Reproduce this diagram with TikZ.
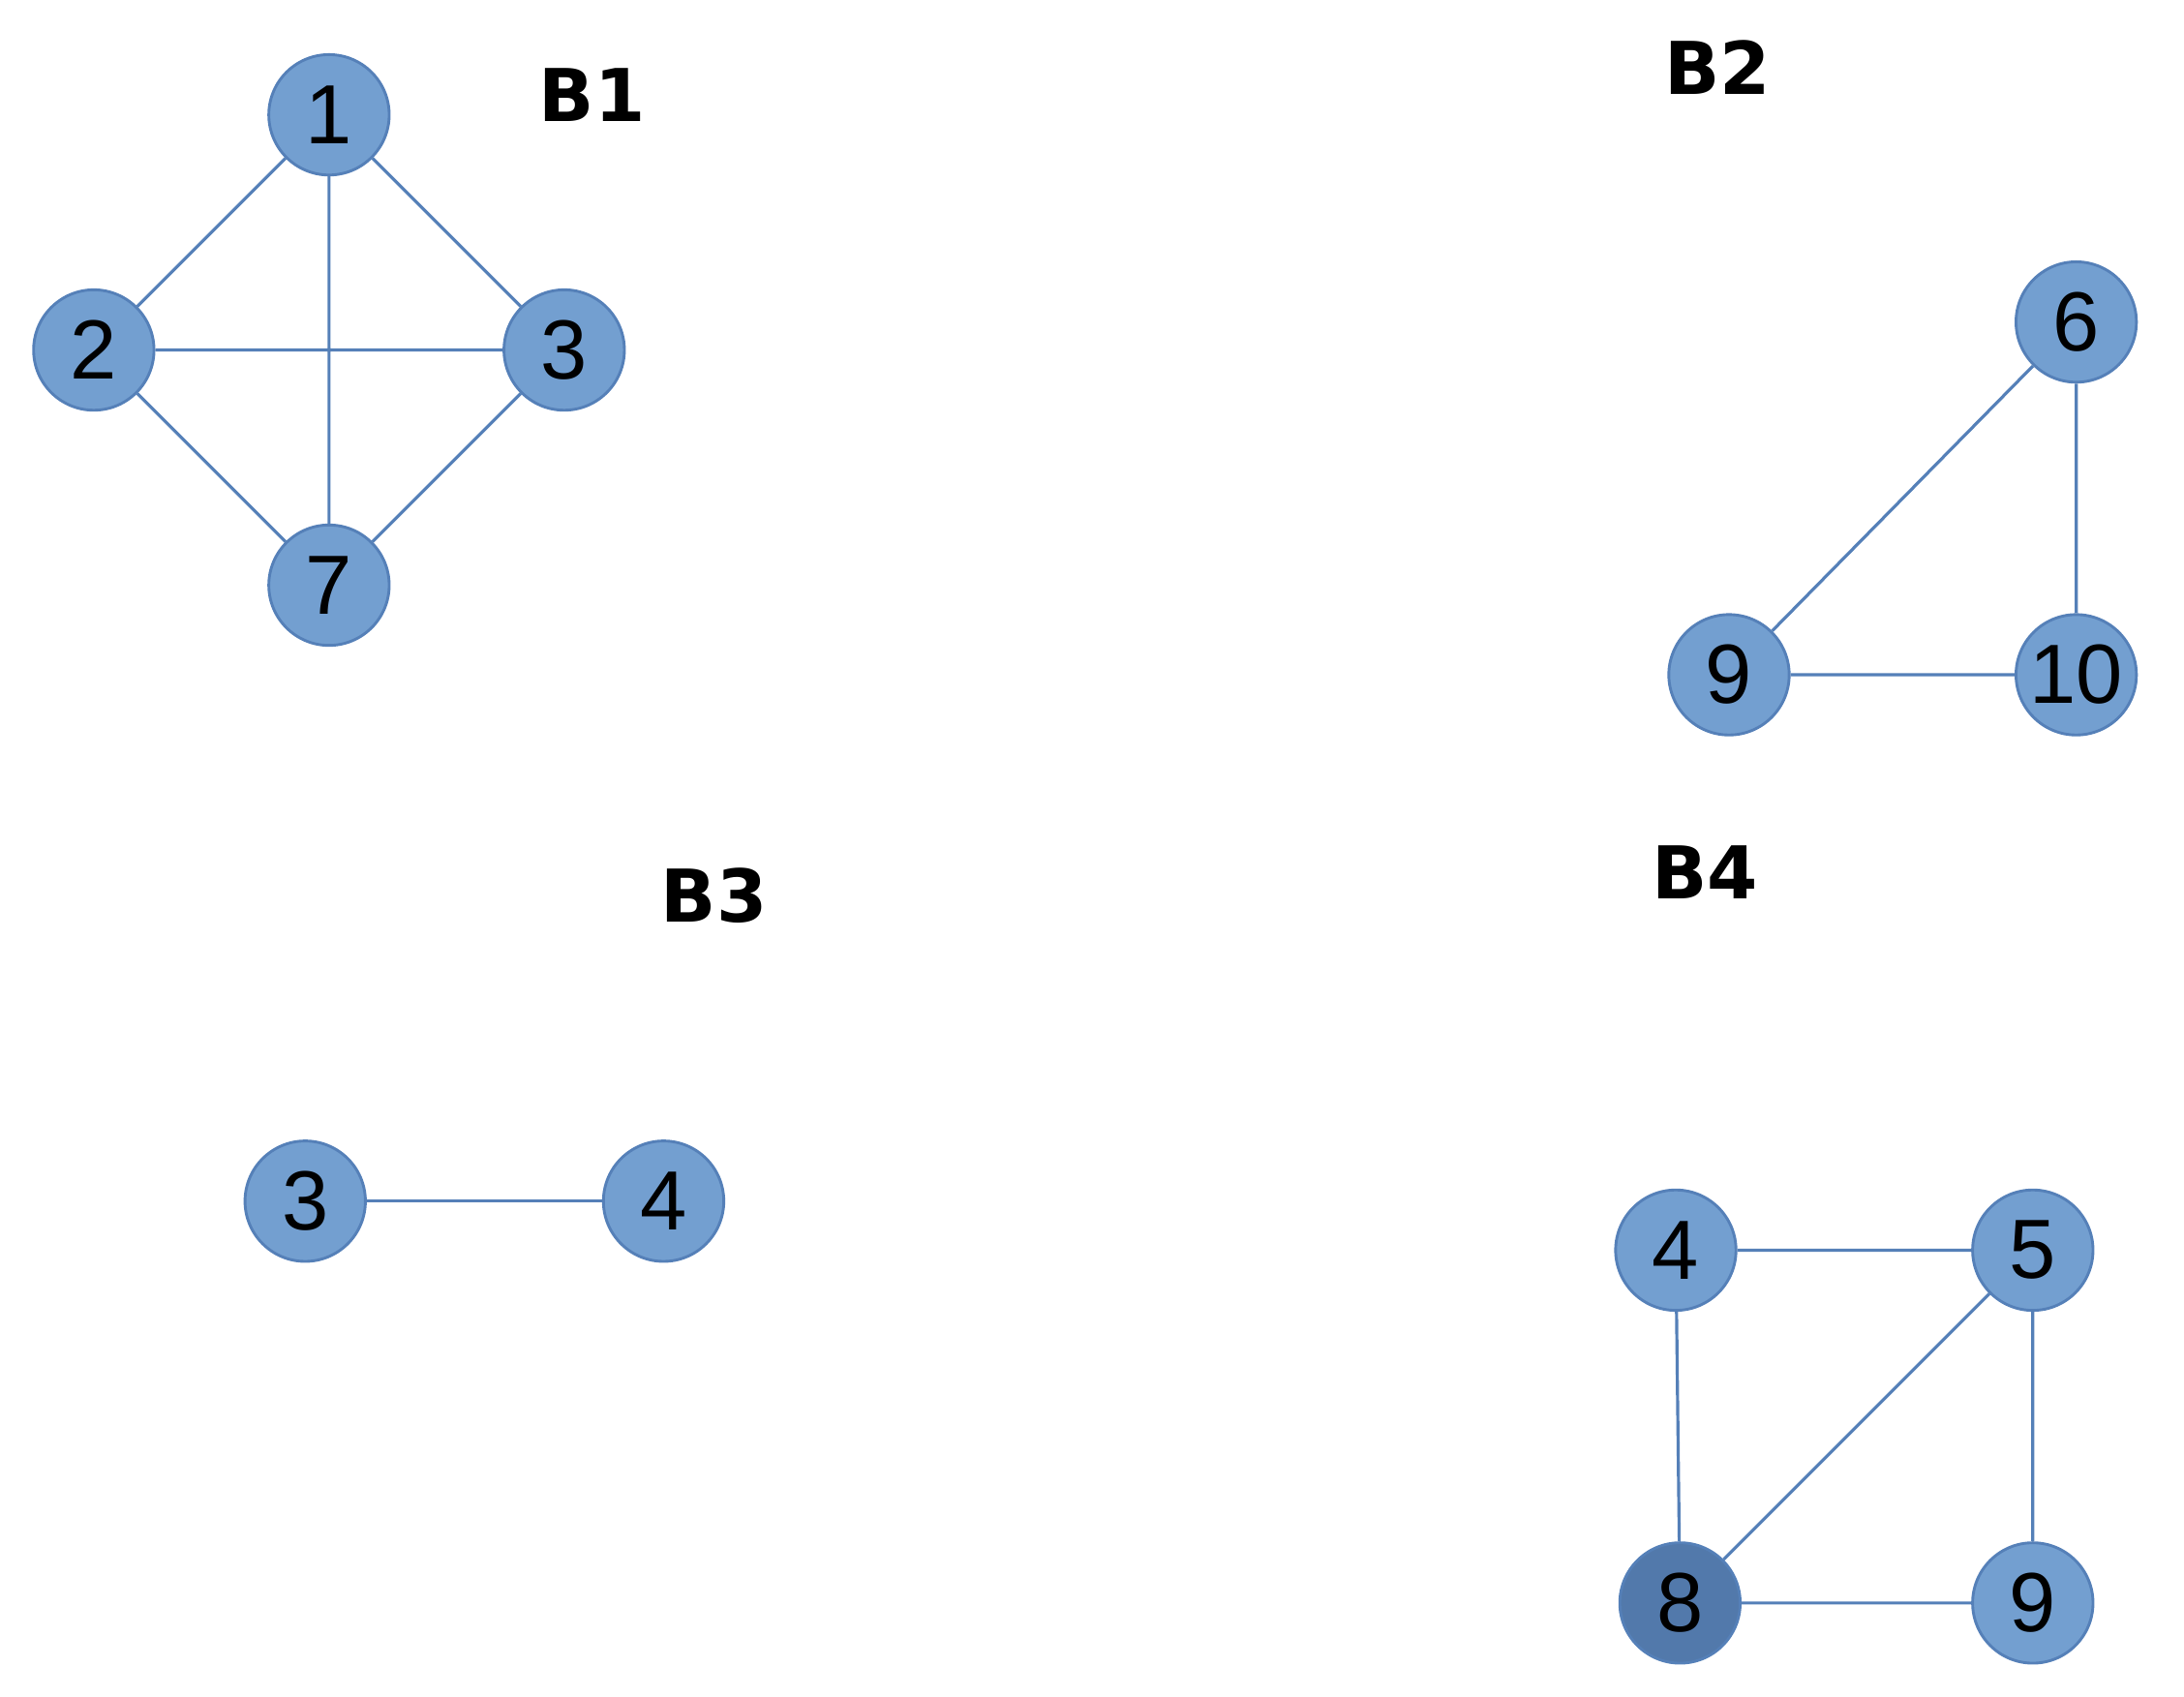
\documentclass[tikz,border=0pt]{standalone}
\usepackage{fontspec}
\setmainfont{Liberation Sans}
\newfontfamily\lblfont{DejaVu Sans}
\definecolor{nfill}{HTML}{739FD0}
\definecolor{nedge}{HTML}{5580B8}
\definecolor{dfill}{HTML}{5279AB}
\begin{document}
\begin{tikzpicture}[x=0.5pt,y=-0.5pt,
  vert/.style={circle,fill=nfill,draw=nedge,line width=1pt,minimum size=43pt,inner sep=0pt,font=\fontsize{30}{30}\selectfont},
  dark/.style={vert,fill=dfill},
  lbl/.style={font=\lblfont\bfseries\fontsize{26}{26}\selectfont},
  edge/.style={draw=nedge,line width=1.1pt}]
\useasboundingbox (0,0) rectangle (1560,1211.6);
\node[vert] (a1) at (235,82) {1};
\node[vert] (a2) at (67,250) {2};
\node[vert] (a3) at (403,250) {3};
\node[vert] (a7) at (235,418) {7};
\node[lbl] (l1) at (423,68) {B1};
\draw[edge] (a1)--(a2) (a1)--(a3) (a1)--(a7) (a2)--(a3) (a2)--(a7) (a3)--(a7);
\node[lbl] (l2) at (1227,48) {B2};
\node[vert] (b6) at (1483,230) {6};
\node[vert] (b9) at (1235,482) {9};
\node[vert] (b10) at (1483,482) {10};
\draw[edge] (b6)--(b9) (b6)--(b10) (b9)--(b10);
\node[lbl] (l3) at (510,640) {B3};
\node[vert] (c3) at (218,858) {3};
\node[vert] (c4) at (474,858) {4};
\draw[edge] (c3)--(c4);
\node[lbl] (l4) at (1218,623) {B4};
\node[vert] (d4) at (1197,893) {4};
\node[vert] (d5) at (1452,893) {5};
\node[dark] (d8) at (1200,1145) {8};
\node[vert] (d9) at (1452,1145) {9};
\draw[edge] (d4)--(d5) (d4)--(d8) (d5)--(d8) (d5)--(d9) (d8)--(d9);
\end{tikzpicture}
\end{document}
